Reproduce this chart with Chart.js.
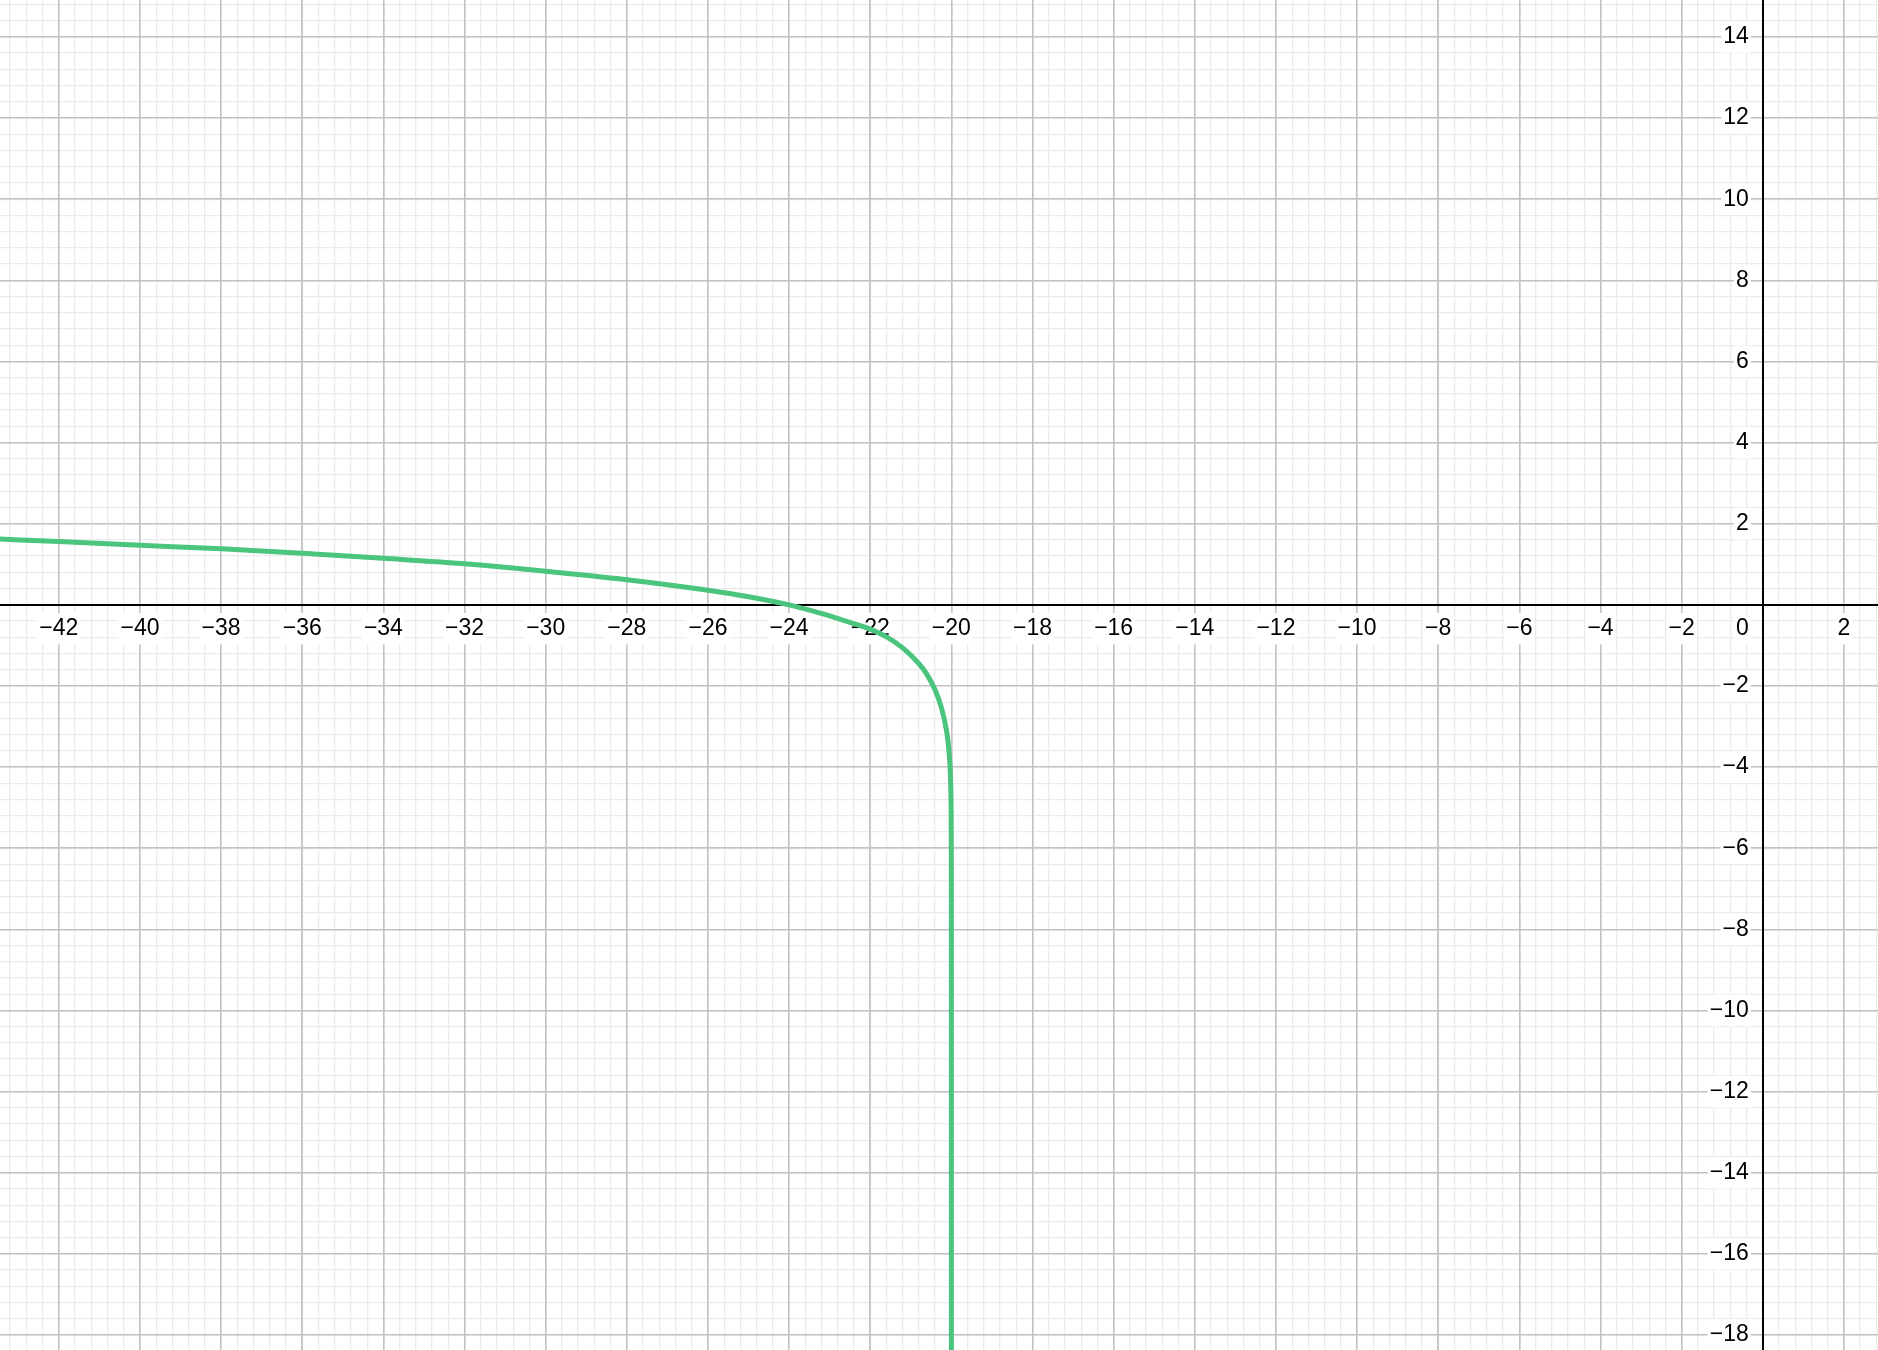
<!DOCTYPE html>
<html>
<head>
<meta charset="utf-8">
<title>Graph</title>
<script src="https://cdn.jsdelivr.net/npm/chart.js@4.4.1/dist/chart.umd.min.js"></script>
<style>
  html, body { margin: 0; padding: 0; background: #fff; }
  #wrap { width: 1878px; height: 1350px; position: relative; }
</style>
</head>
<body>
<div id="wrap"><canvas id="graph"></canvas></div>
<script>
        // Curve points (x, y)
        const curveX = [-43.45, -42, -40, -38, -36, -34, -32, -30, -28, -26, -25, -24,
                        -23.5, -23, -22.5, -22, -21.6, -21.2, -20.8, -20.6, -20.4, -20.25,
                        -20.12, -20.06, -20.02, -20.005, -20.001, -20.0001, -20.000001];
        const curveY = [1.62, 1.56, 1.47, 1.38, 1.27, 1.15, 1.01, 0.83, 0.62, 0.36, 0.2, 0.0,
                        -0.13, -0.27, -0.43, -0.6, -0.79, -1.06, -1.45, -1.72, -2.1, -2.52,
                        -3.1, -3.6, -4.3, -5.2, -6.6, -9, -19];

        // Visible window and grid steps
        const xRange = [-43.45, 2.84];
        const yRange = [-18.37, 14.91];
        const majorStep = 2;
        const minorStep = 0.4;

        const labelFont = { family: "'Liberation Sans', Arial, sans-serif", size: 23 };
        const labelGap = 14;      // px between y labels and the y axis
        const xLabelPad = 10;     // px between x axis and its labels
        const curveColor = '#4bc47d';

        function fmt(v) {
            if (v === 0) return '';
            return String(Math.round(v)).replace('-', '\u2212');
        }

        function noPadding(scale) {
            scale.paddingTop = 0;
            scale.paddingBottom = 0;
            scale.paddingLeft = 0;
            scale.paddingRight = 0;
        }

        const points = curveX.map((x, i) => ({ x: x, y: curveY[i] }));

        // the single "0" at the origin, placed below-left like the original
        const originLabel = {
            id: 'originLabel',
            beforeDatasetsDraw(chart) {
                const ctx = chart.ctx;
                const px = chart.scales.x.getPixelForValue(0) - labelGap;
                const py = chart.scales.y.getPixelForValue(0) + xLabelPad + labelFont.size * 0.6;
                ctx.save();
                ctx.font = labelFont.size + 'px ' + labelFont.family;
                ctx.textAlign = 'right';
                ctx.textBaseline = 'middle';
                const w = ctx.measureText('0').width;
                ctx.fillStyle = '#fff';
                ctx.fillRect(px - w - 2, py - 14, w + 4, 28);
                ctx.fillStyle = '#000';
                ctx.fillText('0', px, py);
                ctx.restore();
            }
        };

        const ctx = document.getElementById('graph').getContext('2d');
        const graph = new Chart(ctx, {
            type: 'scatter',
            data: {
                datasets: [{
                    data: points,
                    showLine: true,
                    borderColor: curveColor,
                    borderWidth: 5,
                    pointRadius: 0,
                    pointHoverRadius: 0,
                    cubicInterpolationMode: 'monotone',
                    fill: false
                }]
            },
            options: {
                responsive: true,
                maintainAspectRatio: false,
                animation: false,
                layout: { padding: 0 },
                plugins: {
                    legend: { display: false },
                    tooltip: { enabled: false }
                },
                scales: {
                    xMinor: {
                        type: 'linear',
                        position: { y: 0 },
                        min: xRange[0],
                        max: xRange[1],
                        afterFit: noPadding,
                        ticks: { display: false, stepSize: minorStep, includeBounds: false },
                        grid: { color: '#ebebeb', lineWidth: 1.3, drawTicks: false },
                        border: { display: false }
                    },
                    yMinor: {
                        // also carries the black y axis line at x = 0
                        type: 'linear',
                        position: { x: 0 },
                        min: yRange[0],
                        max: yRange[1],
                        afterFit: noPadding,
                        ticks: { display: false, stepSize: minorStep, includeBounds: false },
                        grid: { color: '#ebebeb', lineWidth: 1.3, drawTicks: false },
                        border: { color: '#000', width: 2 }
                    },
                    x: {
                        type: 'linear',
                        position: { y: 0 },
                        min: xRange[0],
                        max: xRange[1],
                        afterFit: noPadding,
                        ticks: {
                            stepSize: majorStep,
                            includeBounds: false,
                            autoSkip: false,
                            maxRotation: 0,
                            padding: xLabelPad,
                            color: '#000',
                            font: labelFont,
                            showLabelBackdrop: (c) => c.tick && c.tick.value !== 0,
                            backdropColor: '#fff',
                            backdropPadding: 2,
                            callback: fmt
                        },
                        grid: { color: '#c2c2c2', lineWidth: 1.6, drawTicks: false },
                        border: { color: '#000', width: 2 }
                    },
                    y: {
                        // labels sit just left of the axis, so this scale is anchored a bit left of x = 0
                        type: 'linear',
                        position: { x: -labelGap / 40.57 },
                        min: yRange[0],
                        max: yRange[1],
                        afterFit: noPadding,
                        ticks: {
                            stepSize: majorStep,
                            includeBounds: false,
                            autoSkip: false,
                            padding: 0,
                            color: '#000',
                            font: labelFont,
                            showLabelBackdrop: (c) => c.tick && c.tick.value !== 0,
                            backdropColor: '#fff',
                            backdropPadding: 2,
                            callback: fmt
                        },
                        grid: { color: '#c2c2c2', lineWidth: 1.6, drawTicks: false },
                        border: { display: false }
                    }
                }
            },
            plugins: [originLabel]
        });
</script>
</body>
</html>
